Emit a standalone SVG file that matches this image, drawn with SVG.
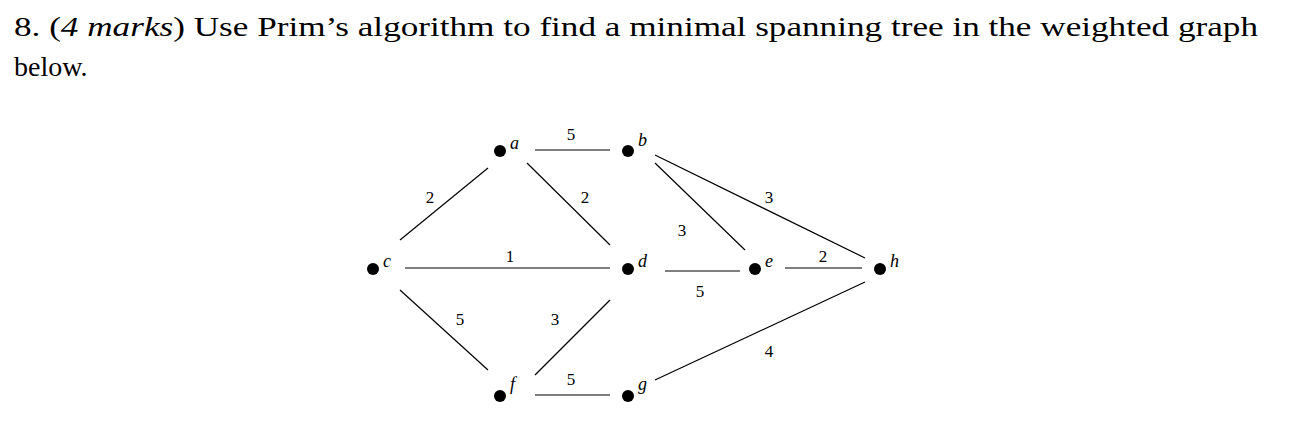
<svg xmlns="http://www.w3.org/2000/svg" width="1316" height="424" viewBox="0 0 1316 424">
<style>
.t{font-family:"Liberation Serif",serif;font-size:28px;fill:#000}
.w{font-family:"Liberation Serif",serif;font-size:17px;fill:#000;text-anchor:middle}
.n{font-family:"Liberation Serif",serif;font-size:18px;font-style:italic;fill:#000}
.e line{stroke:#000;stroke-width:1.2}
circle{fill:#000}
</style>
<rect width="1316" height="424" fill="#fff"/>
<text class="t" x="14" y="36" textLength="1244" lengthAdjust="spacingAndGlyphs">8. (<tspan font-style="italic">4 marks</tspan>) Use Prim’s algorithm to find a minimal spanning tree in the weighted graph</text>
<text class="t" x="14" y="76">below.</text>
<g class="e" id="edges">
<line x1="535" y1="150" x2="610" y2="150"/><text class="w" x="571" y="140">5</text>
<line x1="400" y1="240" x2="488" y2="168"/><text class="w" x="430" y="203">2</text>
<line x1="527" y1="163" x2="610" y2="245"/><text class="w" x="585" y="203">2</text>
<line x1="405" y1="268" x2="610" y2="268"/><text class="w" x="510" y="262">1</text>
<line x1="655" y1="163" x2="745" y2="250"/><text class="w" x="682" y="236">3</text>
<line x1="655" y1="155" x2="865" y2="258"/><text class="w" x="769" y="203">3</text>
<line x1="665" y1="271" x2="740" y2="271"/><text class="w" x="700" y="297">5</text>
<line x1="785" y1="268" x2="862" y2="268"/><text class="w" x="823" y="262">2</text>
<line x1="400" y1="290" x2="488" y2="370"/><text class="w" x="460" y="325">5</text>
<line x1="535" y1="375" x2="610" y2="300"/><text class="w" x="555" y="325">3</text>
<line x1="535" y1="395" x2="610" y2="395"/><text class="w" x="571" y="385">5</text>
<line x1="655" y1="380" x2="865" y2="282"/><text class="w" x="769" y="357">4</text>
</g>
<g id="a"><circle cx="500" cy="151" r="6"/><text class="n" x="510" y="149">a</text></g>
<g id="b"><circle cx="628" cy="151" r="6"/><text class="n" x="638" y="146">b</text></g>
<g id="c"><circle cx="373" cy="269" r="6"/><text class="n" x="383" y="267">c</text></g>
<g id="d"><circle cx="628" cy="269" r="6"/><text class="n" x="638" y="267">d</text></g>
<g id="e"><circle cx="755" cy="269" r="6"/><text class="n" x="765" y="267">e</text></g>
<g id="h"><circle cx="880" cy="269" r="6"/><text class="n" x="890" y="267">h</text></g>
<g id="f"><circle cx="500" cy="396" r="6"/><text class="n" x="510" y="390">f</text></g>
<g id="g"><circle cx="628" cy="396" r="6"/><text class="n" x="638" y="390">g</text></g>
</svg>
